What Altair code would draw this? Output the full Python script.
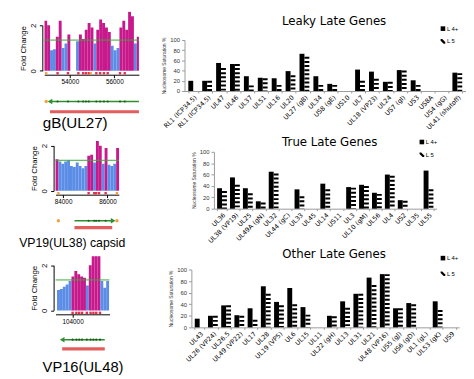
import altair as alt
import pandas as pd

# ---------------- right: nucleosome saturation bar charts ----------------
SERIES = ["L 4+", "L 5"]

leaky_genes = ["RL1 (ICP34.5)", "RL1 (ICP34.5) ", "UL47", "UL46", "UL37", "UL51", "UL16", "UL20",
               "UL27 (gB)", "UL34", "US8 (gE)", "US10", "UL7", "UL18 (VP23)", "UL24", "US7 (gI)",
               "US3", "US8A", "US4 (gG)", "UL41 (shutoff)"]
leaky_l4 = [20, 20, 55, 53, 29, 26, 25, 39, 73, 29, 14, 0, 42, 38, 18, 41, 21, 0, 0, 36]
leaky_l5 = [0, 20, 45, 53, 11, 25, 12, 31, 67, 12, 12, 0, 20, 24, 18, 40, 12, 0, 0, 35]

true_genes = ["UL36", "UL38 (VP19)", "UL25", "UL49A (gN)", "UL32", "UL44 (gC)", "UL33", "UL45",
              "UL14", "US11", "UL3", "UL10 (gM)", "UL56", "UL4", "US2", "UL35", "UL55"]
true_l4 = [36, 55, 36, 13, 65, 0, 34, 0, 44, 0, 38, 42, 28, 60, 15, 0, 67]
true_l5 = [31, 42, 27, 11, 62, 0, 22, 0, 34, 0, 37, 40, 26, 58, 14, 0, 34]

other_genes = ["UL43", "UL26 (VP24)", "UL26.5", "UL49 (VP22)", "UL17", "UL28", "UL19 (VP5)", "UL6",
               "UL15", "UL11", "UL22 (gH)", "UL13", "UL31", "UL21", "UL48 (VP16)", "US5 (gJ)",
               "US6 (gD)", "UL1 (gL)", "UL53 (gK)", "US9"]
other_l4 = [15, 20, 38, 21, 33, 71, 44, 68, 35, 0, 20, 45, 58, 86, 92, 33, 42, 0, 45, 0]
other_l5 = [0, 20, 38, 20, 13, 58, 38, 40, 22, 0, 19, 34, 58, 73, 92, 33, 40, 0, 30, 0]

# ---------------- left: fold-change genome tracks ----------------
BIN = 130
FC_LINE = 1.35

gb_pos = [52850, 52980, 53110, 53240, 53370, 53500, 53630, 53760, 53890, 54020, 54150, 54280,
          54410, 54540, 54670, 54800, 54930, 55060, 55190, 55320, 55450, 55580, 55710, 55840,
          55970, 56100, 56230, 56360, 56490, 56620, 56750, 56880, 57010]
gb_fc = [2.2, 2.0, 0.9, 0.95, 1.5, 2.2, 1.0, 1.2, 1.6, 0, 0, 1.3, 1.6, 1.4, 1.8, 2.1, 1.9, 1.2,
         1.8, 2.25, 2.1, 1.9, 1.7, 1.1, 0.9, 1.0, 1.9, 2.2, 1.8, 2.6, 2.4, 1.2, 1.5]
gb_sites = [52936, 53447, 53915, 54383, 54596, 54723, 54851, 54936, 55191, 55362, 55532, 55702,
            56255, 56468]
gb_kind = ["end", "site", "site", "site", "site", "site", "site", "end", "site", "site", "site",
           "site", "site", "site"]

vp19_pos = [83660, 83790, 83920, 84050, 84180, 84310, 84440, 84570, 84700, 84830, 84960, 85090,
            85220, 85350, 85480, 85610, 85740, 85870, 86000, 86130, 86260, 86390]
vp19_fc = [1.4, 1.3, 1.2, 1.3, 1.35, 1.1, 1.05, 1.25, 1.1, 1.0, 1.1, 1.55, 1.6, 1.25, 2.2, 2.0,
           1.2, 1.9, 1.15, 1.1, 1.2, 1.9]
vp19_sites = [83787, 85149, 85404, 85489, 85617, 85915, 86425]
vp19_kind = ["end", "site", "site", "site", "site", "site", "end"]

vp16_pos = [103300, 103430, 103560, 103690, 103820, 103950, 104080, 104210, 104340, 104470,
            104600, 104730, 104860, 104990, 105120, 105250, 105380, 105510]
vp16_fc = [0.9, 0.95, 1.05, 1.15, 1.3, 1.5, 1.75, 1.6, 1.5, 1.45, 1.1, 2.0, 2.4, 2.4, 2.4, 1.3,
           1.0, 1.3]
vp16_sites = [104000, 104170, 104298, 104426, 104638, 104808, 104936, 105064, 105234]
vp16_kind = ["site"] * 9

track_lo = [52850, 83660, 103234]
track_hi = [57106, 86510, 105660]
track_ticks = [[54000, 56000], [84000, 86000], [104000]]

gene_names = ["gB(UL27)", "VP19(UL38) capsid", "VP16(UL48)"]
gene_start = [53106, 84511, 103532]
gene_end = [57106, 86255, 105447]
gene_strand = ["-", "+", "-"]
orf_start = [53106, 84511, 103532]
orf_end = [57106, 86213, 105447]
flank_dots = [[52936], [83787, 86425], []]

BLUE = "#5b8de6"
MAG = "#c8198c"
GREEN = "#3aa83a"
GREEN_D = "#2f8f2f"
RED = "#e0304a"
ORANGE = "#f2a040"
RED_BAR = "#e35d5d"

HATCH = "M-1,-1L-0.3,-1L1,0.3L1,1L0.3,1L-1,-0.3Z"


def bar_panel(title, genes, l4, l5, w, h, yrange, tdx, toff, lx, ly, lpad):
    df = pd.DataFrame({"gene": genes, "l4": l4, "l5": l5})
    xenc = alt.X("gene:N", sort=genes, title=None,
                 scale=alt.Scale(paddingInner=0.25, paddingOuter=0.25),
                 axis=alt.Axis(labelAngle=-45, labelFontSize=6.5, labelFont="DejaVu Sans",
                               labelColor="black", labelPadding=1, domainColor="#9a9a9a",
                               tickColor="#9a9a9a", tickSize=2, tickBand="extent"))
    yscale = alt.Scale(domain=[0, 100], nice=False, range=yrange)
    yaxis = alt.Axis(values=[0, 20, 40, 60, 80, 100], grid=False, domainColor="#9a9a9a",
                     tickColor="#9a9a9a", tickSize=3, labelFontSize=6, labelPadding=2,
                     labelColor="#333", title="Nucleosome Saturation %", titleFontSize=5,
                     titleFontWeight="normal", titlePadding=3, titleColor="#333")
    b4 = alt.Chart(df).mark_bar(color="black", width=5, xOffset=-2.5).encode(
        x=xenc, y=alt.Y("l4:Q", scale=yscale, axis=yaxis))
    b5 = alt.Chart(df).mark_rule(color="black", strokeWidth=5, strokeDash=[2, 2.2],
                                 strokeCap="butt", xOffset=2.5).encode(
        x=xenc, y=alt.Y("l5:Q", axis=yaxis), y2=alt.datum(0))
    key = alt.Chart(pd.DataFrame({"series": SERIES})).mark_point(
        filled=True, size=0, color="black", opacity=1).encode(
        shape=alt.Shape("series:N", scale=alt.Scale(domain=SERIES, range=["square", HATCH]),
                        legend=alt.Legend(title=None, orient="none", legendX=lx, legendY=ly,
                                          symbolSize=22, symbolFillColor="black",
                                          symbolStrokeWidth=0, labelFontSize=6,
                                          labelOffset=1, rowPadding=lpad, padding=0)))
    return alt.layer(b4, b5, key).properties(
        width=w, height=h,
        title=alt.TitleParams(title, fontSize=12, font="DejaVu Sans", fontWeight="normal",
                              anchor="middle", frame="group", dx=tdx, offset=toff))


def genome_panel(i, pos, fc, mpos, mkind, w, h, y0, unit, xr, yoff,
                 arrow_y, bar_y, tsize, title_x, title_y):
    df = pd.DataFrame({"pos": pos, "fc": fc})
    xs = alt.Scale(domain=[track_lo[i], track_hi[i]], range=xr, nice=False, zero=False)
    ys = alt.Scale(domain=[0, 2], range=[y0, y0 - 2 * unit], nice=False, zero=False)
    xaxis = alt.Axis(values=track_ticks[i], format="d", labelFontSize=6.5, tickSize=3,
                     offset=-(h - y0) + 4, labelPadding=1, domainColor="black",
                     tickColor="black", grid=False, labelColor="black",
                     title=gene_names[i], titleFontSize=tsize, titleFont="Liberation Sans",
                     titleFontWeight="normal", titleColor="black", titleX=title_x,
                     titleY=title_y, titleAlign="center", titleBaseline="middle")
    yaxis = alt.Axis(values=[0, 1, 2], format="d", labelAngle=-90, labelFontSize=8,
                     tickSize=3, offset=yoff, grid=False, domainColor="black",
                     tickColor="black", title="Fold Change", titleFontSize=8,
                     titleFontWeight="normal", titlePadding=2, labelPadding=2,
                     labelColor="black", titleColor="black")
    bars = alt.Chart(df).transform_calculate(
        end=f"datum.pos + {BIN}", kind=f"datum.fc > {FC_LINE} ? 'peak' : 'base'"
    ).mark_bar(clip=True).encode(
        x=alt.X("pos:Q", scale=xs, axis=xaxis), x2="end:Q",
        y=alt.Y("fc:Q", scale=ys, axis=yaxis), y2=alt.datum(0),
        color=alt.Color("kind:N", scale=alt.Scale(domain=["base", "peak"], range=[BLUE, MAG]),
                        legend=None))
    line = alt.Chart(pd.DataFrame({"lo": [track_lo[i]], "hi": [track_hi[i]],
                                   "lvl": [FC_LINE]})).mark_rule(
        color=GREEN, strokeWidth=1).encode(
        x=alt.X("lo:Q", axis=xaxis), x2="hi:Q", y=alt.Y("lvl:Q", axis=yaxis))
    marks = alt.Chart(pd.DataFrame({"pos": mpos, "kind": mkind})).mark_square(
        size=6, yOffset=2.5, opacity=1).encode(
        x=alt.X("pos:Q", axis=xaxis), y=alt.datum(0),
        fill=alt.Fill("kind:N", scale=alt.Scale(domain=["site", "end"], range=[RED, ORANGE]),
                      legend=None))

    g = pd.DataFrame({"start": [gene_start[i]], "end": [gene_end[i]],
                      "os": [orf_start[i]], "oe": [orf_end[i]]})
    red = alt.Chart(g).mark_rule(color=RED_BAR, strokeWidth=3.2).encode(
        x=alt.X("os:Q", axis=xaxis), x2="oe:Q", y=alt.value(bar_y))
    arrow = alt.Chart(g).mark_rule(color=GREEN_D, strokeWidth=1.5).encode(
        x=alt.X("start:Q", axis=xaxis), x2="end:Q", y=alt.value(arrow_y))
    head_field = "start" if gene_strand[i] == "-" else "end"
    head_shape = "triangle-left" if gene_strand[i] == "-" else "triangle-right"
    head = alt.Chart(g).mark_point(shape=head_shape, filled=True, size=30, color=GREEN_D,
                                   opacity=1).encode(
        x=alt.X(f"{head_field}:Q", axis=xaxis), y=alt.value(arrow_y))
    sites = [mpos[k] for k in range(len(mpos))
             if gene_start[i] < mpos[k] < gene_end[i] and mkind[k] == "site"]
    dots = alt.Chart(pd.DataFrame({"pos": sites})).mark_circle(
        size=5, color="#1d5e1d", opacity=1).encode(
        x=alt.X("pos:Q", axis=xaxis), y=alt.value(arrow_y))
    layers = [bars, line, marks, red, arrow, head, dots]
    if flank_dots[i]:
        fl = alt.Chart(pd.DataFrame({"pos": flank_dots[i]})).mark_circle(
            size=12, color=ORANGE, opacity=1).encode(
            x=alt.X("pos:Q", axis=xaxis), y=alt.value(arrow_y))
        layers.append(fl)
    return alt.layer(*layers).properties(width=w, height=h)


W = 96.5
p1 = genome_panel(0, gb_pos, gb_fc, gb_sites, gb_kind, W, 106, 60.4, 23.2, [0, 96.5], 2,
                  91.7, 102.2, 15.5, 31, 48.6)
p2 = genome_panel(1, vp19_pos, vp19_fc, vp19_sites, vp19_kind, W, 121.7, 76.7, 23.0,
                  [11.5, 76], -9.5, 107.3, 114.3, 12.5, 28, 49)
p3 = genome_panel(2, vp16_pos, vp16_fc, vp16_sites, vp16_kind, W, 119.8, 76.7, 23.0,
                  [11.5, 66.5], -9.5, 106.6, 115.9, 15, 39, 53)

left = alt.vconcat(p1, p2, p3, spacing=0, bounds="flush")

c1 = bar_panel("Leaky Late Genes", leaky_genes, leaky_l4, leaky_l5, 287, 81, [81, 29], 9, -17,
               260.5, 14.4, 7)
c2 = bar_panel("True Late Genes", true_genes, true_l4, true_l5, 227, 58, [58, 0], 4.5, -10,
               209, -13, 7)
c3 = bar_panel("Other Late Genes", other_genes, other_l4, other_l5, 273, 59, [59, 0], 9, -6,
               253.5, -14.6, 10)

right = alt.vconcat(c1, c2, c3, spacing=62, bounds="flush", center=True).resolve_scale(
    shape="independent")

chart = alt.hconcat(left, right, spacing=20, bounds="full").resolve_scale(
    shape="independent"
).properties(
    padding={"left": 10, "top": 0, "right": 0, "bottom": 0}
).configure(font="Liberation Sans", view=alt.ViewConfig(stroke=None))

chart.save("out.html", embed_options={"renderer": "svg", "actions": False})
